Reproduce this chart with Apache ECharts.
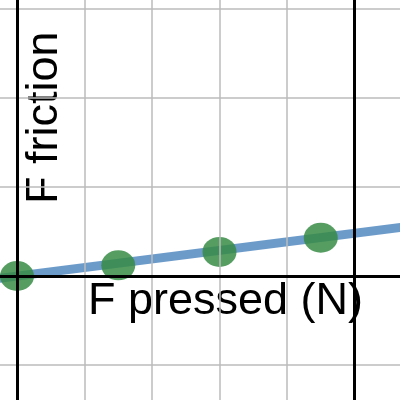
<!DOCTYPE html>
<html>
<head>
<meta charset="utf-8">
<script src="https://cdn.jsdelivr.net/npm/echarts@6/dist/echarts.min.js"></script>
<style>html,body{margin:0;padding:0;background:#fff}#chart{width:400px;height:400px}</style>
</head>
<body>
<div id="chart"></div>
<script>
// measured points (F pressed, F friction)
var pressed = [0, 1.5, 3, 4.5];
var friction = [0, 0.12, 0.27, 0.43];
// fitted line ends
var lineX = [-1, 6];
var lineY = [-0.096, 0.576];
var gridX = [1, 2, 3, 4];
var gridY = [-1, 1, 2, 3];
var xLabel = 'F pressed (N)';
var yLabel = 'F friction';

var chart = echarts.init(document.getElementById('chart'));
var pts = pressed.map(function(x, i) { return [x, friction[i]]; });
var fit = lineX.map(function(x, i) { return [x, lineY[i]]; });

var gridLines = gridX.map(function(v) { return { xAxis: v }; })
	.concat(gridY.map(function(v) { return { yAxis: v }; }));
var blackLines = [{ xAxis: 0 }, { xAxis: 5 }, { yAxis: 0 }];

chart.setOption({
	animation: false,
	grid: { left: 0, right: 0, top: 0, bottom: 0 },
	xAxis: {
		type: 'value', min: -0.252, max: 5.674,
		axisLine: { show: false }, axisTick: { show: false },
		axisLabel: { show: false }, splitLine: { show: false }
	},
	yAxis: {
		type: 'value', min: -1.393, max: 3.101,
		axisLine: { show: false }, axisTick: { show: false },
		axisLabel: { show: false }, splitLine: { show: false }
	},
	series: [{
		type: 'line', data: [], z: 1,
		markLine: {
			silent: true, symbol: 'none', label: { show: false },
			lineStyle: { color: '#bbb', width: 1.5, type: 'solid' },
			data: gridLines
		}
	}, {
		type: 'line', data: [], z: 2,
		markLine: {
			silent: true, symbol: 'none', label: { show: false },
			lineStyle: { color: '#000', width: 3, type: 'solid' },
			data: blackLines
		}
	}, {
		type: 'line', data: fit, symbol: 'none', z: 3,
		lineStyle: { color: '#2d70b3', width: 9, opacity: 0.7 }
	}, {
		type: 'scatter', data: pts, symbol: 'circle', symbolSize: [34, 30], z: 4,
		itemStyle: { color: '#388c46', opacity: 0.85 }
	}],
	graphic: [{
		type: 'text', left: 88, top: 279,
		style: { text: xLabel, font: '45px "Liberation Sans", Arial', fill: '#000' }
	}, {
		type: 'text', x: 22, y: 204, rotation: Math.PI / 2,
		style: { text: yLabel, font: '45px "Liberation Sans", Arial', fill: '#000' }
	}]
});
</script>
</body>
</html>
